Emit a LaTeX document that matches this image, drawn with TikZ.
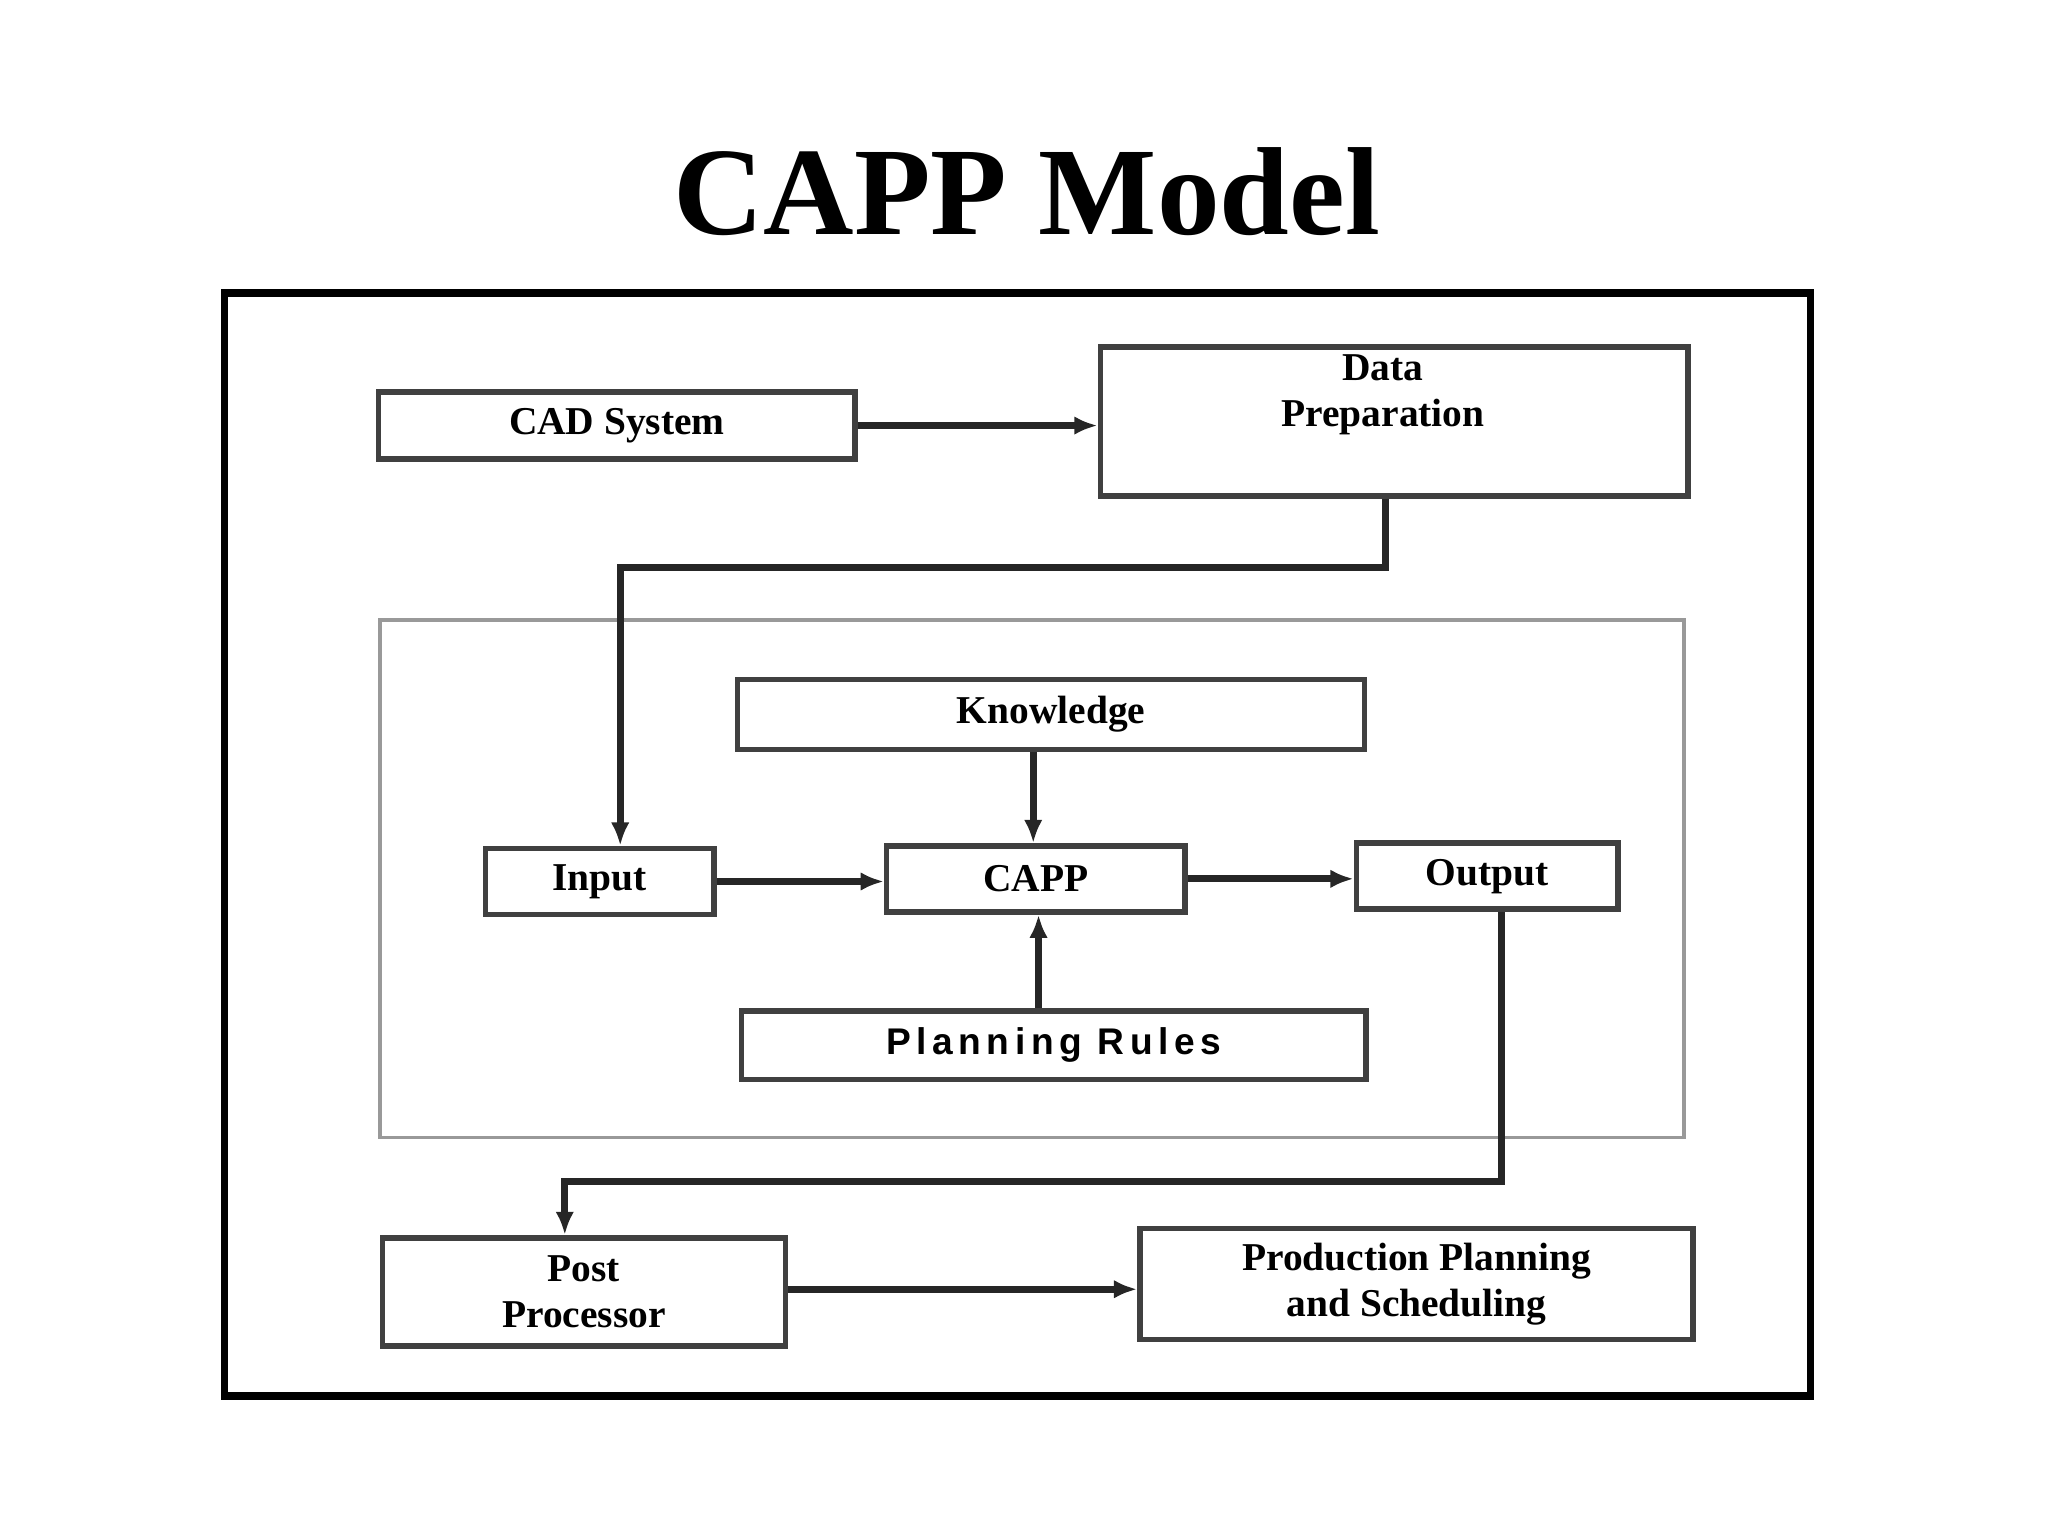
\documentclass[tikz,border=0pt]{standalone}
\usepackage{fontspec}
\setmainfont{Liberation Serif}
\newfontfamily\prfont[LetterSpace=15]{Liberation Sans}
\usetikzlibrary{arrows.meta}
\begin{document}
\begin{tikzpicture}[x=0.01cm,y=-0.01cm,
  bx/.style={draw=black!75,line width=1.2pt,inner sep=0pt,font=\bfseries\fontsize{8.5}{10}\selectfont,align=center},
  ar/.style={draw=black!85,line width=1.5pt,-{Latex[length=5pt,width=4pt]}}]
\useasboundingbox (0,0) rectangle (1552,1164);
\node[font=\bfseries\fontsize{27}{31}\selectfont] (title) at (778,145) {CAPP Model};
\draw[line width=1.6pt] (170,222) rectangle (1372,1058);
\draw[black!40,line width=0.8pt] (288,470) rectangle (1276,862);
\node[bx,minimum width=3.61cm,minimum height=0.51cm] (cad) at (467.5,322.5) {CAD System};
\node[bx,minimum width=4.45cm,minimum height=1.13cm] (dp) at (1056.5,319.5) {};
\node[font=\bfseries\fontsize{8.5}{10}\selectfont,align=center] (dpt) at (1048,299) {Data\\Preparation};
\node[bx,minimum width=4.75cm,minimum height=0.53cm] (kn) at (796.5,541.5) {Knowledge};
\node[bx,minimum width=1.73cm,minimum height=0.50cm] (in) at (454.5,668) {Input};
\node[bx,minimum width=2.26cm,minimum height=0.50cm] (capp) at (785,666) {CAPP};
\node[bx,minimum width=1.98cm,minimum height=0.50cm] (out) at (1127,664) {Output};
\node[bx,minimum width=4.73cm,minimum height=0.52cm,font=\prfont\bfseries\fontsize{8}{10}\selectfont] (pr) at (798.5,792) {Planning Rules};
\node[bx,minimum width=3.05cm,minimum height=0.82cm] (pp) at (442.5,979) {Post\\Processor};
\node[bx,minimum width=4.19cm,minimum height=0.84cm] (ps) at (1073.5,973) {Production Planning\\and Scheduling};
\draw[ar] (cad.east) -- (dp.west|-cad.east);
\draw[ar] (dp.south-|1050,0) -- (1050,430) -- (470,430) -- (in.north-|470,0);
\draw[ar] (kn.south-|783,0) -- (capp.north-|783,0);
\draw[ar] (pr.north-|787,0) -- (capp.south-|787,0);
\draw[ar] (in.east) -- (capp.west|-in.east);
\draw[ar] (capp.east) -- (out.west|-capp.east);
\draw[ar] (out.south-|1138,0) -- (1138,895) -- (428,895) -- (pp.north-|428,0);
\draw[ar] (pp.east|-0,977) -- (ps.west|-0,977);
\end{tikzpicture}
\end{document}
